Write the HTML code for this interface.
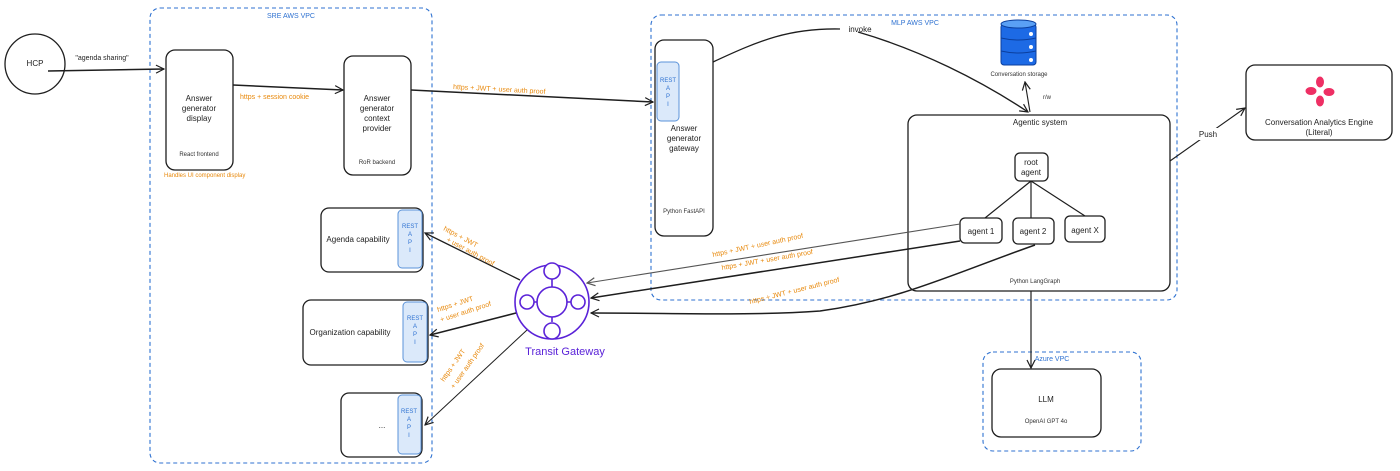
<!DOCTYPE html>
<html><head><meta charset="utf-8"><style>
html,body{margin:0;padding:0;background:#fff;}
svg{display:block;font-family:"Liberation Sans",sans-serif;}
.b{fill:#fff;stroke:#1e1e1e;stroke-width:1.3;}
.t{font-size:8px;fill:#1e1e1e;text-anchor:middle;}
.s{font-size:6px;fill:#333;text-anchor:middle;}
.o{font-size:7px;fill:#e8890c;}
.v{fill:none;stroke:#2f72d1;stroke-width:1.1;stroke-dasharray:4 3;}
.vl{font-size:7px;fill:#2f72d1;text-anchor:middle;}
.r{fill:#dbe9fa;stroke:#5b93d9;stroke-width:1;}
.rt{font-size:6px;fill:#2f72d1;text-anchor:middle;}
.a{fill:none;stroke:#1e1e1e;stroke-width:1.5;}
</style></head><body>
<svg width="1400" height="471" viewBox="0 0 1400 471">
<defs>
<marker id="ar" markerWidth="10" markerHeight="10" refX="9" refY="5" orient="auto" markerUnits="userSpaceOnUse"><path d="M1,1 L9,5 L1,9" fill="none" stroke="#1e1e1e" stroke-width="1.2"/></marker>
<marker id="ag" markerWidth="10" markerHeight="10" refX="9" refY="5" orient="auto" markerUnits="userSpaceOnUse"><path d="M1,1 L9,5 L1,9" fill="none" stroke="#555" stroke-width="1.2"/></marker>
</defs>
<rect class="v" x="150" y="8" width="282" height="455" rx="10"/>
<text class="vl" x="291" y="18">SRE AWS VPC</text>
<rect class="v" x="651" y="15" width="526" height="285" rx="10"/>
<text class="vl" x="915" y="25">MLP AWS VPC</text>
<rect class="v" x="983" y="352" width="158" height="99" rx="10"/>
<text class="vl" x="1052" y="361">Azure VPC</text>

<circle cx="35" cy="64" r="30" fill="#fff" stroke="#1e1e1e" stroke-width="1.3"/>
<text class="t" x="35" y="66">HCP</text>
<path class="a" d="M48,71 L164,69" marker-end="url(#ar)"/>
<text class="t" x="102" y="60" style="font-size:7px">"agenda sharing"</text>

<rect class="b" x="166" y="50" width="67" height="120" rx="9"/>
<text class="t" x="199" y="101">Answer</text><text class="t" x="199" y="111">generator</text><text class="t" x="199" y="121">display</text>
<text class="s" x="199" y="156">React frontend</text>
<text class="o" x="164" y="177" style="font-size:6px">Handles UI component display</text>
<path class="a" d="M233,85 L343,90" marker-end="url(#ar)"/>
<text class="o" x="240" y="99">https + session cookie</text>

<rect class="b" x="344" y="56" width="67" height="119" rx="9"/>
<text class="t" x="377" y="101">Answer</text><text class="t" x="377" y="111">generator</text><text class="t" x="377" y="121">context</text><text class="t" x="377" y="131">provider</text>
<text class="s" x="377" y="164">RoR backend</text>
<path class="a" d="M411,90 L653,102" marker-end="url(#ar)"/>
<text class="o" x="453" y="89" transform="rotate(3 453 89)">https + JWT + user auth proof</text>

<rect class="b" x="655" y="40" width="58" height="196" rx="9"/>
<rect class="r" x="657" y="62" width="22" height="59" rx="4"/>
<text class="rt" x="668" y="82">REST</text><text class="rt" x="668" y="90">A</text><text class="rt" x="668" y="98">P</text><text class="rt" x="668" y="106">I</text>
<text class="t" x="684" y="131">Answer</text><text class="t" x="684" y="141">generator</text><text class="t" x="684" y="151">gateway</text>
<text class="s" x="684" y="213">Python FastAPI</text>

<path class="a" d="M713,62 C760,40 790,28 840,29" style="stroke-width:1.3"/>
<path class="a" d="M858,32 C920,50 980,80 1028,112" style="stroke-width:1.3" marker-end="url(#ar)"/>
<text class="t" x="860" y="32">invoke</text>

<g>
<rect x="1001" y="24" width="35" height="41" rx="3" fill="#1d6ae5" stroke="#0b3f9e"/>
<ellipse cx="1018.5" cy="24" rx="17.5" ry="4" fill="#5aa0f5" stroke="#0b3f9e"/>
<path d="M1001,38 Q1018,42 1036,38 M1001,51 Q1018,55 1036,51" stroke="#0b3f9e" fill="none"/>
<circle cx="1031" cy="34" r="2" fill="#fff"/><circle cx="1031" cy="47" r="2" fill="#fff"/><circle cx="1031" cy="60" r="2" fill="#fff"/>
</g>
<text class="s" x="1019" y="76">Conversation storage</text>
<path class="a" d="M1030,112 L1025,82" style="stroke-width:1.1" marker-end="url(#ar)"/>
<text class="s" x="1047" y="99">r/w</text>

<rect class="b" x="908" y="115" width="262" height="176" rx="9"/>
<text class="t" x="1040" y="125">Agentic system</text>
<text class="s" x="1035" y="283">Python LangGraph</text>
<path class="a" d="M1031,181 L985,218 M1031,181 L1031,218 M1031,181 L1085,216" style="stroke-width:1.2"/>
<rect class="b" x="1015" y="153" width="33" height="28" rx="5"/>
<text class="t" x="1031" y="165">root</text><text class="t" x="1031" y="175">agent</text>
<rect class="b" x="960" y="218" width="42" height="25" rx="5"/><text class="t" x="981" y="234">agent 1</text>
<rect class="b" x="1013" y="218" width="41" height="26" rx="5"/><text class="t" x="1033" y="234">agent 2</text>
<rect class="b" x="1065" y="216" width="40" height="26" rx="5"/><text class="t" x="1085" y="233">agent X</text>

<path class="a" d="M1170,161 L1245,108" style="stroke-width:1.1" marker-end="url(#ar)"/>
<rect x="1195" y="128" width="26" height="12" fill="#fff"/>
<text class="t" x="1208" y="137">Push</text>
<rect class="b" x="1246" y="65" width="146" height="75" rx="9"/>
<g fill="#ee2f64">
<ellipse cx="1320" cy="82" rx="4" ry="5.5"/><ellipse cx="1320" cy="101" rx="4" ry="5.5"/>
<ellipse cx="1311" cy="91" rx="5.5" ry="4"/><ellipse cx="1329" cy="92" rx="5.5" ry="4"/>
</g>
<text class="t" x="1319" y="125">Conversation Analytics Engine</text>
<text class="t" x="1319" y="135">(Literal)</text>

<path class="a" d="M1031,291 L1031,368" style="stroke-width:1.2" marker-end="url(#ar)"/>
<rect class="b" x="992" y="369" width="109" height="68" rx="9"/>
<text class="t" x="1046" y="402">LLM</text>
<text class="s" x="1046" y="423">OpenAI GPT 4o</text>

<rect class="b" x="321" y="208" width="102" height="64" rx="8"/>
<rect class="r" x="398" y="210" width="24" height="58" rx="4"/>
<text class="rt" x="410" y="228">REST</text><text class="rt" x="410" y="236">A</text><text class="rt" x="410" y="244">P</text><text class="rt" x="410" y="252">I</text>
<text class="t" x="358" y="242">Agenda capability</text>

<rect class="b" x="303" y="300" width="125" height="65" rx="8"/>
<rect class="r" x="403" y="302" width="24" height="60" rx="4"/>
<text class="rt" x="415" y="320">REST</text><text class="rt" x="415" y="328">A</text><text class="rt" x="415" y="336">P</text><text class="rt" x="415" y="344">I</text>
<text class="t" x="350" y="335">Organization capability</text>

<rect class="b" x="341" y="393" width="81" height="64" rx="8"/>
<rect class="r" x="398" y="395" width="23" height="59" rx="4"/>
<text class="rt" x="409" y="413">REST</text><text class="rt" x="409" y="421">A</text><text class="rt" x="409" y="429">P</text><text class="rt" x="409" y="437">I</text>
<text class="t" x="382" y="428">...</text>

<g stroke="#5a22d8" stroke-width="1.6" fill="#fff">
<circle cx="552" cy="302" r="37"/>
<path d="M552,287 L552,278 M552,317 L552,322 M537,302 L531,302 M567,302 L572,302"/>
<circle cx="552" cy="302" r="15"/>
<circle cx="552" cy="271" r="8"/><circle cx="552" cy="331" r="8"/>
<circle cx="527" cy="302" r="7"/><circle cx="578" cy="302" r="7"/>
</g>
<text x="565" y="355" style="font-size:11px;fill:#5a22d8;text-anchor:middle">Transit Gateway</text>

<path d="M960,224 L587,283" fill="none" stroke="#555" stroke-width="1.1" marker-end="url(#ag)"/>
<text class="o" x="713" y="257" transform="rotate(-12 713 257)">https + JWT + user auth proof</text>
<path class="a" d="M960,241 L591,298" marker-end="url(#ar)"/>
<text class="o" x="722" y="270" transform="rotate(-10 722 270)">https + JWT + user auth proof</text>
<path class="a" d="M1035,245 C950,275 900,300 820,311 C750,316 680,313 591,313" marker-end="url(#ar)"/>
<text class="o" x="750" y="304" transform="rotate(-14 750 304)">https + JWT + user auth proof</text>

<path class="a" d="M520,280 L425,233" style="stroke-width:1.3" marker-end="url(#ar)"/>
<text class="o" x="443" y="230" transform="rotate(28 443 230)">https + JWT</text>
<text class="o" x="446" y="241" transform="rotate(28 446 241)">+ user auth proof</text>
<path class="a" d="M516,313 L430,335" marker-end="url(#ar)"/>
<text class="o" x="438" y="312" transform="rotate(-18 438 312)">https + JWT</text>
<text class="o" x="441" y="322" transform="rotate(-18 441 322)">+ user auth proof</text>
<path d="M527,330 L425,425" fill="none" stroke="#1e1e1e" stroke-width="1" marker-end="url(#ar)"/>
<text class="o" x="444" y="382" transform="rotate(-55 444 382)">https + JWT</text>
<text class="o" x="454" y="389" transform="rotate(-55 454 389)">+ user auth proof</text>
</svg>
</body></html>
